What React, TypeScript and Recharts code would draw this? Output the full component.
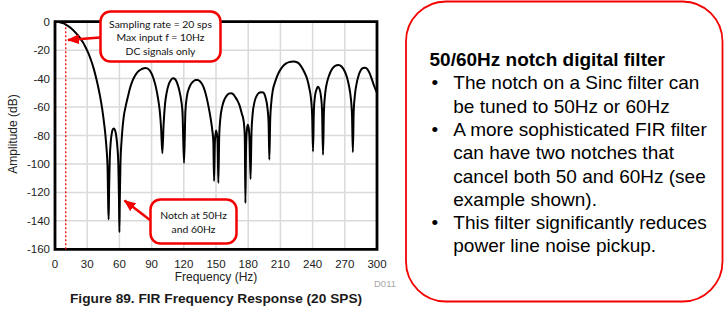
import {
  LineChart,
  Line,
  XAxis,
  YAxis,
  CartesianGrid,
  ReferenceArea,
  ReferenceLine,
} from "recharts";

// [frequency Hz, amplitude dB]
const mainLobe: [number, number][] = [
  [0, 0], [3, -0.2], [6, -0.7], [8, -1.2], [10, -2], [12, -2.9], [14, -4],
  [16, -5.3], [18, -6.8], [20, -8.4], [22, -10.2], [24, -12.2], [26, -14.5],
  [28, -17.2], [30, -20.3], [32, -23.8], [34, -28], [36, -32.8], [38, -38.5],
  [40, -45], [42, -52.5], [44, -61.5], [46, -73], [47, -80], [48, -89],
  [49, -103], [49.6, -131],
];

const notches50and60: [number, number][] = [
  [50, -139], [50.4, -118], [51, -97], [52, -84], [53, -78], [54, -75.5],
  [55, -75], [56, -76.5], [57, -80], [58, -87], [59, -100], [59.6, -124],
  [60, -148], [60.4, -124], [61, -99], [62, -84], [63, -74], [64, -67],
];

const lobes64to150: [number, number][] = [
  [66, -59], [68, -52.5], [70, -46.5], [72, -42], [74, -38.7], [76, -36.3],
  [78, -34.7], [80, -33.6], [82, -32.9], [84, -32.6], [86, -32.8], [88, -34],
  [90, -36.5], [92, -40.5], [94, -46], [96, -54], [97.5, -62], [98.8, -74],
  [100, -92.4], [101.2, -72], [102.5, -58], [104, -50], [106, -44], [108, -41],
  [110, -39.7], [112, -40.5], [114, -43.5], [116, -49], [117.5, -55],
  [118.8, -64], [120.2, -99.4], [121.5, -63], [123, -52], [125, -46.5],
  [127, -43.5], [129, -41.8], [131, -41], [133, -40.9], [135, -41.8],
  [137, -43.8], [139, -47.2], [141, -52.5], [143, -59.5], [145, -68],
  [146.5, -76], [147.5, -84], [148.2, -112], [149, -84], [150, -76.5],
];

const lobes150to200: [number, number][] = [
  [151, -80], [151.5, -85], [152.2, -113.4], [153, -80], [154, -68.5],
  [156, -59], [158, -54.5], [160, -52], [162, -50.6], [164, -50.3], [166, -51],
  [168, -53], [170, -55.5], [172, -59], [174, -64.5], [175.8, -70],
  [176.8, -80], [177.4, -127.5], [178, -88], [178.8, -76], [179.6, -72.5],
  [180.5, -75], [181.3, -84], [182.2, -110.6], [183, -80], [184, -66],
  [186, -56], [188, -52], [190, -50], [192, -49.6], [194, -49.8], [196, -53],
  [198, -61], [199, -71], [199.7, -97],
];

const lobes200to300: [number, number][] = [
  [200.5, -69], [201.5, -57], [203, -48], [205, -42.5], [207, -38.2],
  [209, -35], [212, -31.6], [215, -29.5], [218, -28.4], [222, -28],
  [226, -28.7], [229, -31], [232, -35], [235, -40.5], [237, -47],
  [238.5, -54], [239.6, -66], [240.4, -91.2], [241.2, -62], [242.2, -52.5],
  [243.5, -48], [245, -45.8], [246.5, -47.5], [247.8, -52.5], [248.8, -62],
  [249.7, -93.5], [250.6, -62], [251.8, -50], [253.5, -42.5], [255.5, -37.5],
  [258, -33.5], [261, -31], [264, -30.4], [267, -31.5], [270, -35], [272, -39],
  [274, -45.5], [275.5, -53], [276.7, -65], [277.5, -91.7], [278.3, -63],
  [279.5, -51], [281, -43.5], [283, -37.5], [285, -34], [287, -32.5],
  [289, -32.3], [291, -33.3], [293, -36], [295, -40], [297, -44.5], [300, -50],
];

const xTicks = [0, 30, 60, 90, 120, 150, 180, 210, 240, 270, 300];
const yTicks = [-160, -140, -120, -100, -80, -60, -40, -20, 0];

const bullets = [
  ["The notch on a Sinc filter can", "be tuned to 50Hz or 60Hz"],
  [
    "A more sophisticated FIR filter",
    "can have two notches that",
    "cancel both 50 and 60Hz (see",
    "example shown).",
  ],
  ["This filter significantly reduces", "power line noise pickup."],
];

const data = [
  ...mainLobe,
  ...notches50and60,
  ...lobes64to150,
  ...lobes150to200,
  ...lobes200to300,
].map(([f, db]) => ({ f, db }));

const RED = "#f40000";
const ARIAL = "'Liberation Sans', Arial, sans-serif";
const CALLOUT = "Lato, 'Open Sans', sans-serif";

function Overlay() {
  let lineIdx = 0;
  return (
    <svg
      width={724}
      height={321}
      style={{ position: "absolute", left: 0, top: 0, pointerEvents: "none" }}
    >
      <defs>
        <marker
          id="head"
          markerUnits="userSpaceOnUse"
          markerWidth={12}
          markerHeight={10}
          refX={11}
          refY={5}
          orient="auto"
        >
          <path d="M0,0 L12,5 L0,10 z" fill={RED} />
        </marker>
      </defs>

      {/* callout: sampling rate */}
      <line x1={100} y1={37.5} x2={68} y2={40} stroke={RED} strokeWidth={2.5} markerEnd="url(#head)" />
      <rect x={100.5} y={11.5} width={120} height={50} rx={10} fill="#fff" stroke={RED} strokeWidth={2.5} />
      <g fontFamily={CALLOUT} fontSize={10.4} fill="#111" textAnchor="middle">
        <text x={160.5} y={28}>Sampling rate = 20 sps</text>
        <text x={160.5} y={41}>Max input f = 10Hz</text>
        <text x={160.5} y={54.5}>DC signals only</text>
      </g>

      {/* callout: notches */}
      <line x1={150} y1={220} x2={124.5} y2={200.5} stroke={RED} strokeWidth={2.5} markerEnd="url(#head)" />
      <rect x={150.5} y={199.5} width={86} height={44} rx={10} fill="#fff" stroke={RED} strokeWidth={2.5} />
      <g fontFamily={CALLOUT} fontSize={10.4} fill="#111" textAnchor="middle">
        <text x={193.5} y={219}>Notch at 50Hz</text>
        <text x={193.5} y={232.5}>and 60Hz</text>
      </g>

      {/* axis titles */}
      <text x={216} y={281} textAnchor="middle" fontFamily={ARIAL} fontSize={12} fill="#222">
        Frequency (Hz)
      </text>
      <text
        x={0}
        y={0}
        transform="translate(16.5,134) rotate(-90)"
        textAnchor="middle"
        fontFamily={ARIAL}
        fontSize={12}
        fill="#222"
      >
        Amplitude (dB)
      </text>
      <text x={374} y={286.5} fontFamily={ARIAL} fontSize={9.5} fill="#a8a8a8">
        D011
      </text>
      <text x={70} y={303} fontFamily={ARIAL} fontSize={13.7} fontWeight="bold" fill="#1a1a1a">
        Figure 89. FIR Frequency Response (20 SPS)
      </text>

      {/* right text panel */}
      <rect x={406} y={1.5} width={316.5} height={300} rx={40} fill="none" stroke={RED} strokeWidth={1.8} />
      <g fontFamily={ARIAL} fill="#000">
        <text x={429.5} y={65.5} fontSize={19} fontWeight="bold">
          50/60Hz notch digital filter
        </text>
        {bullets.map((group, gi) =>
          group.map((ln, li) => {
            const y = 89.3 + 23.3 * lineIdx++;
            return (
              <g key={`${gi}-${li}`}>
                {li === 0 && (
                  <text x={431.5} y={y} fontSize={19}>
                    •
                  </text>
                )}
                <text x={453.3} y={y} fontSize={19}>
                  {ln}
                </text>
              </g>
            );
          })
        )}
      </g>
    </svg>
  );
}

export default function App() {
  return (
    <div
      style={{
        position: "absolute",
        left: 0,
        top: 0,
        width: 724,
        height: 321,
        background: "#fff",
        fontFamily: ARIAL,
      }}
    >
      <LineChart
        width={724}
        height={321}
        data={data}
        margin={{ top: 21.7, right: 347, bottom: 31.7, left: 15 }}
      >
        <CartesianGrid stroke="#dadada" strokeWidth={1.5} />
        <XAxis
          dataKey="f"
          type="number"
          domain={[0, 300]}
          ticks={xTicks}
          interval={0}
          height={40}
          axisLine={false}
          tickLine={false}
          tickSize={6}
          tickMargin={4.5}
          tick={{ fill: "#222", fontSize: 11.5 }}
        />
        <YAxis
          type="number"
          domain={[-160, 0]}
          ticks={yTicks}
          interval={0}
          width={40}
          axisLine={false}
          tickLine={false}
          tickSize={3}
          tickMargin={2}
          tick={{ fill: "#222", fontSize: 11.5 }}
        />
        <ReferenceLine x={10} stroke={RED} strokeWidth={1.3} strokeDasharray="2 2" />
        <Line
          dataKey="db"
          type="monotone"
          stroke="#000"
          strokeWidth={2}
          dot={false}
          isAnimationActive={false}
        />
        <ReferenceArea
          x1={0}
          x2={300}
          y1={-160}
          y2={0}
          fill="none"
          stroke="#000"
          strokeWidth={2.8}
        />
      </LineChart>
      <Overlay />
    </div>
  );
}
